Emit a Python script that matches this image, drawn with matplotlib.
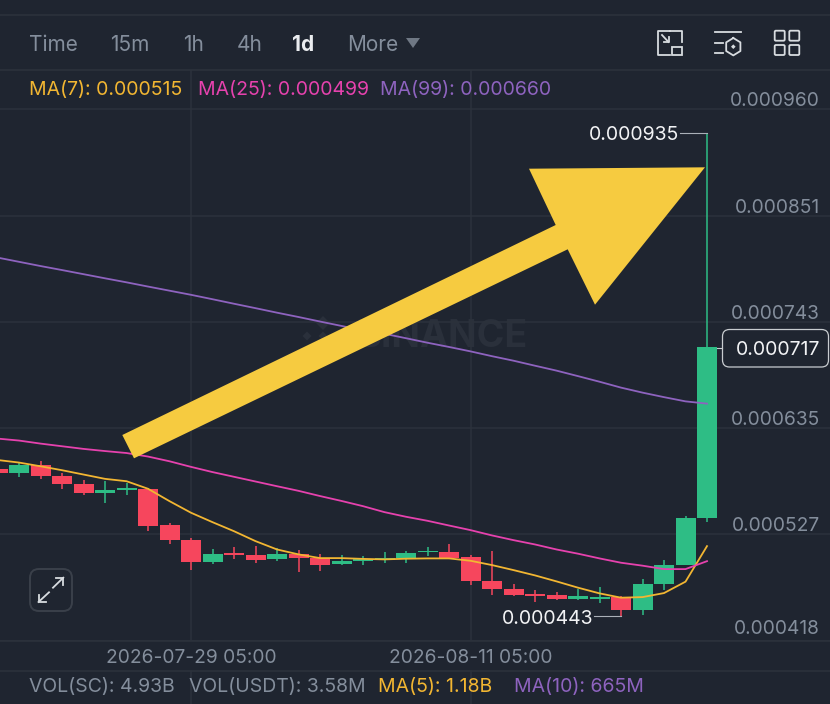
import numpy as np
import matplotlib
matplotlib.use("Agg")
import matplotlib.pyplot as plt
from matplotlib.patches import FancyBboxPatch, Polygon
from matplotlib.transforms import ScaledTranslation

plt.rcParams['font.family'] = ['Inter', 'DejaVu Sans']

# DATA (prices in millionths)
candle_idx = list(range(-1, 33))
open_p = [593.3, 589.2, 597.7, 585.8, 577.6, 568.2, 571.9, 572.6, 535.9, 521.1, 498.3, 507.2, 505.1, 501.4, 506.5, 502.8, 496.3,
          499.7, 500.1, 502.8, 508.2, 508.2, 503.1, 479.4, 470.6, 465.5, 464.5, 461.1, 460.4, 462.4, 449.5, 476.4, 495.3, 542.8]
close_p = [589.2, 597.0, 586.2, 578.0, 569.2, 571.9, 574.0, 535.3, 521.1, 498.3, 506.2, 505.4, 500.4, 506.2, 502.4, 495.3, 499.0,
           501.8, 502.8, 507.2, 509.9, 502.8, 479.4, 471.3, 465.2, 463.4, 461.1, 463.4, 462.7, 449.5, 476.4, 495.3, 542.8, 717.0]
high_p = [594.6, 599.4, 601.7, 589.2, 581.7, 580.7, 579.1, 573.6, 538.0, 522.4, 512.0, 513.3, 514.3, 513.0, 510.9, 506.2, 505.8,
          504.4, 508.2, 509.2, 513.3, 516.3, 505.1, 509.2, 476.4, 469.8, 468.2, 471.3, 473.3, 463.4, 481.4, 500.1, 545.1, 935.0]
low_p = [588.5, 584.8, 583.4, 573.0, 566.2, 559.0, 566.9, 529.8, 516.3, 490.2, 496.3, 501.4, 497.0, 499.0, 488.2, 488.9, 495.0,
         495.0, 497.7, 497.0, 504.1, 501.8, 475.3, 464.5, 464.2, 457.6, 459.4, 459.4, 456.3, 443.0, 444.4, 469.5, 495.3, 539.4]

ma7 = [602.3, 599.7, 595.9, 591.9, 587.5, 583.1, 580.7, 573.0, 560.4, 548.6, 539.0, 529.8, 519.7, 511.2, 506.2, 502.4, 502.4,
       501.6, 501.1, 501.8, 502.1, 502.1, 499.7, 495.3, 490.2, 484.8, 478.7, 472.3, 466.5, 462.1, 462.7, 466.8, 478.4, 514.6]
ma25 = [624.1, 622.1, 619.0, 616.3, 613.6, 611.4, 609.4, 605.8, 601.0, 595.3, 590.0, 585.2, 580.4, 575.6, 570.9, 565.6, 560.6,
        555.3, 549.2, 544.5, 540.4, 535.6, 530.9, 525.5, 520.7, 516.3, 511.2, 506.9, 502.1, 497.7, 494.7, 491.2, 491.2, 499.3]
ma99 = [808.4, 804.1, 799.8, 795.7, 791.5, 787.3, 783.2, 778.9, 774.7, 770.5, 766.0, 761.4, 756.9, 752.3, 747.9, 743.3, 738.8,
        734.2, 730.8, 726.3, 721.7, 717.4, 712.9, 708.0, 703.4, 698.3, 693.3, 687.7, 682.0, 676.0, 670.9, 666.3, 662.0, 659.7]

y_ticks = [960, 851, 743, 635, 527, 418]
y_labels = ['0.000960', '0.000851', '0.000743', '0.000635', '0.000527', '0.000418']
date_idx = [8, 21]
date_labels = ['2026-07-29 05:00', '2026-08-11 05:00']
intervals = ['Time', '15m', '1h', '4h', '1d', 'More']
interval_x = [29, 110, 183, 237, 292, 347]
ma_legend = ['MA(7): 0.000515', 'MA(25): 0.000499', 'MA(99): 0.000660']
ma_legend_x = [29, 198, 380]
vol_legend = ['VOL(SC): 4.93B', 'VOL(USDT): 3.58M', 'MA(5): 1.18B', 'MA(10): 665M']
vol_legend_x = [29, 189, 378, 514]

# COLOURS
BG = '#1f2530'
GRID = '#2c323c'
GREY = '#848e9c'
GREEN = '#2ebd85'
RED = '#f6465d'
YELLOW = '#f2b632'
PINK = '#e642ae'
PURPLE = '#8e63bf'
ARROW = '#f6cb40'
ICON = '#d8dce0'
WMARK = '#2a303b'

W, H = 830, 704
fig = plt.figure(figsize=(W/100, H/100), dpi=100, facecolor=BG)

# Background layer in pixel coordinates (panel lines, watermark)
ax_bg = fig.add_axes([0, 0, 1, 1], zorder=0)
ax_bg.set_xlim(0, W)
ax_bg.set_ylim(H, 0)
ax_bg.axis('off')
for yy in [15, 70, 641, 671]:
    ax_bg.plot([0, W], [yy, yy], color=GRID, lw=1.2)
ax_bg.text(528, 337, 'BINANCE', color=WMARK, fontsize=27, fontweight='bold', va='center', ha='right')
for cx, cy, r in [(323, 323, 7), (307, 336, 4.5), (339, 336, 4.5), (323, 336, 4.5), (323, 349, 7)]:
    ax_bg.add_patch(Polygon([(cx-r, cy), (cx, cy-r), (cx+r, cy), (cx, cy+r)], color=WMARK, lw=0))

# Price panel: pixel rows 70 to 641
top_px, bot_px = 70, 641
ax = fig.add_axes([0, 1-bot_px/H, 1, (bot_px-top_px)/H], zorder=1)
ax.patch.set_alpha(0)
for s in ax.spines.values():
    s.set_visible(False)
ax.set_xlim(-19/21.5, (W-19)/21.5)
ax.set_ylim(418.7, 999.4)

for p in y_ticks:
    ax.axhline(p, color=GRID, lw=1.1, zorder=1)
for d in date_idx:
    ax.axvline(d, color=GRID, lw=1.1, zorder=1)
    ax_bg.plot([19 + 21.5*d]*2, [671, H], color=GRID, lw=1.1)

ax.set_xticks([])
ax.set_yticks(y_ticks, y_labels)
ax.yaxis.tick_right()
ax.tick_params(axis='y', length=0, pad=-7.2, labelsize=13.8, labelcolor=GREY)
labs = ax.get_yticklabels()
for k, lab in enumerate(labs):
    lab.set_ha('right')
    lab.set_va('bottom')
    # text sits a little lower than the default, the bottom one a little higher
    dy = 2.5 if k == len(labs)-1 else -1.5
    lab.set_transform(lab.get_transform() + ScaledTranslation(0, dy/100, fig.dpi_scale_trans))

# Candles
for i in range(len(candle_idx)):
    up = close_p[i] >= open_p[i]
    col = GREEN if up else RED
    ax.vlines(candle_idx[i], low_p[i], high_p[i], color=col, lw=1.1, zorder=2)
    ax.bar(candle_idx[i], abs(close_p[i]-open_p[i]), bottom=min(open_p[i], close_p[i]),
           width=20/21.5, color=col, lw=0, zorder=2)

# Moving averages
ax.plot(candle_idx, ma7, color=YELLOW, lw=1.3, zorder=3)
ax.plot(candle_idx, ma25, color=PINK, lw=1.3, zorder=3)
ax.plot(candle_idx, ma99, color=PURPLE, lw=1.3, zorder=3)

# High and low labels with leaders
hi = int(np.argmax(high_p))
lo = int(np.argmin(low_p))
ax.plot([candle_idx[hi]-27/21.5, candle_idx[hi]], [high_p[hi], high_p[hi]], color='#aab0b8', lw=0.8, zorder=2)
ax.plot([candle_idx[lo]-27/21.5, candle_idx[lo]], [low_p[lo], low_p[lo]], color='#aab0b8', lw=0.8, zorder=2)
ax.annotate('0.000%d' % high_p[hi], (candle_idx[hi]-27/21.5, high_p[hi]), xytext=(-0.7, -1.5), textcoords='offset points',
            color='#f2f3f5', fontsize=14, ha='right', va='center', zorder=4)
ax.annotate('0.000%d' % low_p[lo], (candle_idx[lo]-27/21.5, low_p[lo]), xytext=(-0.7, -1.5), textcoords='offset points',
            color='#f2f3f5', fontsize=14, ha='right', va='center', zorder=4)

# Top layer in pixel coordinates (header, arrow, icons, tag)
ax_top = fig.add_axes([0, 0, 1, 1], zorder=2)
ax_top.patch.set_alpha(0)
ax_top.set_xlim(0, W)
ax_top.set_ylim(H, 0)
ax_top.axis('off')

for name, xx in zip(intervals, interval_x):
    if name == '1d':
        ax_top.text(xx, 45, name, color='#eaecef', fontsize=15, fontweight='bold', va='center')
    else:
        ax_top.text(xx, 45, name, color=GREY, fontsize=15, va='center')
ax_top.add_patch(Polygon([(406, 38), (420, 38), (413, 48)], color='#6f7884', lw=0))

for name, xx, col in zip(ma_legend, ma_legend_x, [YELLOW, PINK, PURPLE]):
    ax_top.text(xx, 90, name, color=col, fontsize=14, va='center')
for name, xx, col in zip(vol_legend, vol_legend_x, [GREY, GREY, YELLOW, PURPLE]):
    ax_top.text(xx, 687, name, color=col, fontsize=14, va='center')
for d, name in zip(date_idx, date_labels):
    ax_top.text(19 + 21.5*d, 658, name, color=GREY, fontsize=13.8, ha='center', va='center')

# Big arrow
ax_top.add_patch(Polygon([(122.3, 435), (555.7, 225), (529, 168.7), (705, 167.3), (595, 304.7),
                          (567.7, 249.3), (134, 458.3)], closed=True, color=ARROW, lw=0))

# Last price tag
ax_top.plot([717, 722], [348, 348], color='#c8ccd0', lw=0.8)
ax_top.add_patch(FancyBboxPatch((722.5, 329.5), 106, 37.5, boxstyle='round,pad=0,rounding_size=7', fc=BG,
                                ec='#c8ccd0', lw=0.9))
ax_top.text(820, 350, '0.000%d' % close_p[-1], color='#f2f3f5', fontsize=14, ha='right', va='center')

# Expand button
ax_top.add_patch(FancyBboxPatch((30, 569), 42, 42, boxstyle='round,pad=0,rounding_size=9', fc='none',
                                ec='#3a404a', lw=1.4))
ax_top.plot([38.5, 49], [602, 592.3], color=ICON, lw=1.3)
ax_top.plot([38.5, 38.5, 46], [595, 602, 602], color=ICON, lw=1.3)
ax_top.plot([53, 63.3], [587.7, 577.7], color=ICON, lw=1.3)
ax_top.plot([56, 63.3, 63.3], [577.7, 577.7, 585], color=ICON, lw=1.3)

# Toolbar icons
ax_top.plot([670, 657.7, 657.7, 670], [55, 55, 30.7, 30.7], color=ICON, lw=1.3)
ax_top.plot([670, 682.3, 682.3], [30.7, 30.7, 42], color=ICON, lw=1.3)
ax_top.add_patch(plt.Rectangle((672.3, 46.7), 10, 8.3, fc='none', ec=ICON, lw=1.3))
ax_top.plot([662, 668.5], [35, 42], color=ICON, lw=1.3)
ax_top.plot([668.5, 668.5, 663.5], [37, 42, 42], color=ICON, lw=1.3)

ax_top.plot([715.3, 741], [32.3, 32.3], color=ICON, lw=1.3)
ax_top.plot([715.3, 722.5], [43.3, 43.3], color=ICON, lw=1.3)
ax_top.plot([715.3, 722.5], [52.7, 52.7], color=ICON, lw=1.3)
hex_t = np.deg2rad(np.arange(-90, 271, 60))
ax_top.plot(733.3 + 8.2*np.cos(hex_t), 46.7 + 8.7*np.sin(hex_t), color=ICON, lw=1.3)
ax_top.add_patch(Polygon([(731, 46.7), (733.3, 44.4), (735.6, 46.7), (733.3, 49)], color=ICON, lw=0))

for xx in [774.7, 789.3]:
    for yy in [30.7, 45]:
        ax_top.add_patch(FancyBboxPatch((xx, yy), 10, 10, boxstyle='round,pad=0,rounding_size=1.2', fc='none',
                                        ec=ICON, lw=1.3))

fig.savefig('out.png', dpi=100, facecolor=BG)
